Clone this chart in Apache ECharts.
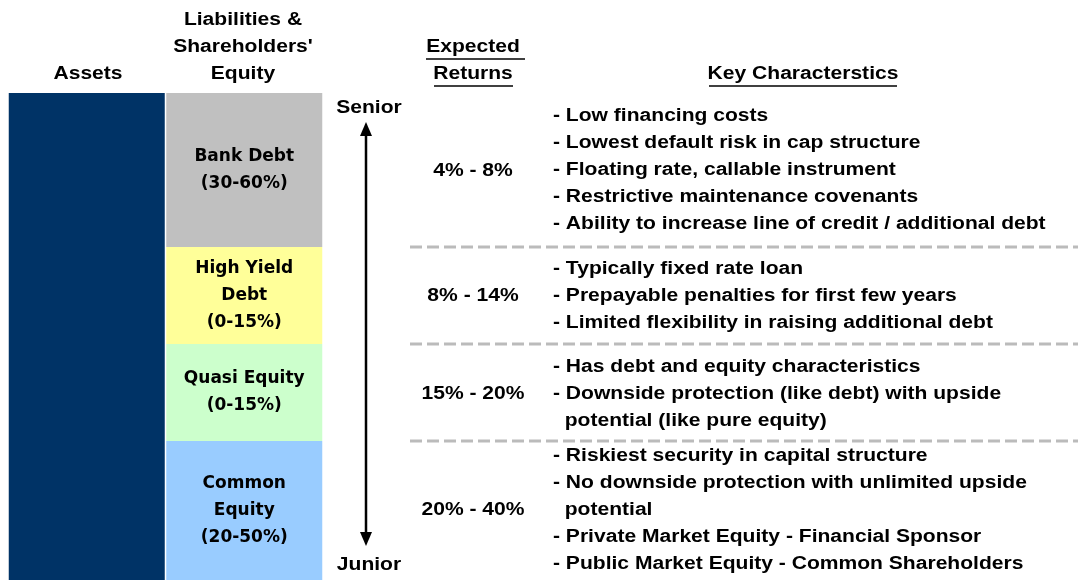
<!DOCTYPE html><html><head><meta charset="utf-8">
<script src="https://cdn.jsdelivr.net/npm/echarts@6/dist/echarts.min.js"></script>
<style>html,body{margin:0;background:#fff}#c{width:1084px;height:583px}</style></head><body><div id="c"></div>
<script>
const columns = ['Assets', "Liabilities &\nShareholders'\nEquity"];
const tranches = ['Common Equity', 'Quasi Equity', 'High Yield Debt', 'Bank Debt'];
const trancheLabels = ['Common\nEquity\n(20-50%)', 'Quasi Equity\n(0-15%)', 'High Yield\nDebt\n(0-15%)', 'Bank Debt\n(30-60%)'];
const trancheHeights = [139, 97, 97, 154];
const assetsHeight = 487;
const expectedReturns = ['20% - 40%', '15% - 20%', '8% - 14%', '4% - 8%'];
const characteristics = [
 ['- Riskiest security in capital structure','- No downside protection with unlimited upside','  potential','- Private Market Equity - Financial Sponsor','- Public Market Equity - Common Shareholders'],
 ['- Has debt and equity characteristics','- Downside protection (like debt) with upside','  potential (like pure equity)'],
 ['- Typically fixed rate loan','- Prepayable penalties for first few years','- Limited flexibility in raising additional debt'],
 ['- Low financing costs','- Lowest default risk in cap structure','- Floating rate, callable instrument','- Restrictive maintenance covenants','- Ability to increase line of credit / additional debt']
];
const colors = ['#99CCFF','#CCFFCC','#FFFF99','#C0C0C0'];
const F = '"Liberation Sans", Arial, sans-serif';
const chart = echarts.init(document.getElementById('c'));
const series = [{type:'bar',name:'Assets',stack:'s',data:[assetsHeight,'-'],barWidth:156,barGap:'1%',itemStyle:{color:'#003366'},silent:true}];
tranches.forEach((t,i)=>{
  const d=['-','-']; d[1]=trancheHeights[i];
  series.push({type:'bar',name:t,stack:'s',data:d,barWidth:159,itemStyle:{color:colors[i]},
    label:{show:true,position:'inside',formatter:trancheLabels[i],fontFamily:'"DejaVu Sans", sans-serif',fontWeight:'bold',fontSize:17,color:'#000',lineHeight:27}});
});
const g=[];
const SX=1.17;
const T=(x,y,text,align)=>g.push({type:'text',x,y,scaleX:SX,style:{text,font:'bold 18px '+F,fill:'#000',align:align||'left',verticalAlign:'middle'}});
T(88,74,'Assets','center');
T(243,20,'Liabilities &','center');T(243,47,"Shareholders'",'center');T(243,74,'Equity','center');
T(473,47,'Expected','center');T(473,74,'Returns','center');
T(803,74,'Key Characterstics','center');
[[426,525,59],[434,513,86],[709,897,86]].forEach(l=>g.push({type:'line',shape:{x1:l[0],y1:l[2],x2:l[1],y2:l[2]},style:{stroke:'#000',lineWidth:1.5}}));
T(369,108,'Senior','center');T(369,565,'Junior','center');
g.push({type:'line',shape:{x1:366,y1:132,x2:366,y2:536},style:{stroke:'#000',lineWidth:2.5}});
g.push({type:'polygon',shape:{points:[[360,136],[372,136],[366,122]]},style:{fill:'#000'}});
g.push({type:'polygon',shape:{points:[[360,532],[372,532],[366,546]]},style:{fill:'#000'}});
let bottom=580;
const centers=[510,394,296,171];
const starts=[456,367,269,116];
tranches.forEach((t,i)=>{
  const top=bottom-trancheHeights[i];
  T(473,centers[i],expectedReturns[i],'center');
  characteristics[i].forEach((s,j)=>T(553,starts[i]+27*j,s,'left'));
  if(i<3) g.push({type:'line',shape:{x1:410,y1:top,x2:1078,y2:top},style:{stroke:'#BBBBBB',lineWidth:3,lineDash:[12,5]}});
  bottom=top;
});
chart.setOption({animation:false,
 grid:{left:8,right:761,top:93,bottom:3},
 xAxis:{type:'category',data:columns,show:false},
 yAxis:{type:'value',min:0,max:assetsHeight,show:false},
 series, graphic:g});
</script></body></html>
